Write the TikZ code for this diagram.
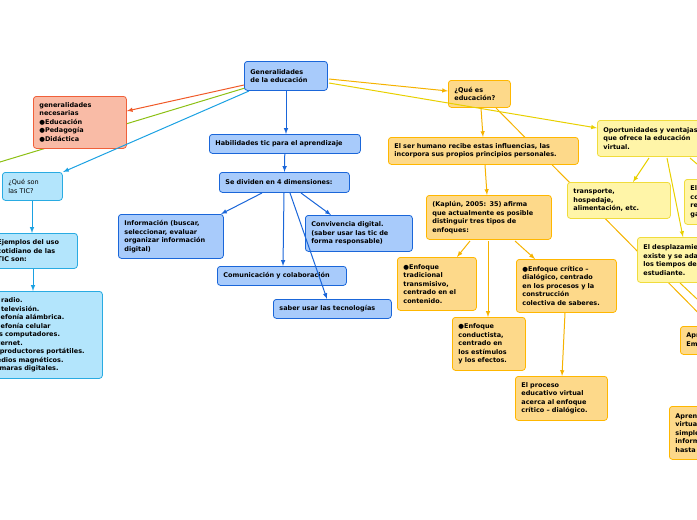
\documentclass[tikz,border=0pt]{standalone}
\usepackage{fontspec}
\setmainfont{DejaVu Sans}
\begin{document}
\hyphenpenalty=10000 \exhyphenpenalty=10000
\begin{tikzpicture}[x=1pt,y=-1pt,
  base/.style={draw,rounded corners=3pt,line width=0.8pt,anchor=north west,inner xsep=6pt,inner ysep=2pt,align=left,font=\fontsize{6.5}{8.5}\selectfont\bfseries},
  bluebox/.style={base,fill={rgb,255:red,168;green,203;blue,251},draw={rgb,255:red,26;green,102;blue,217}},
  cyanbox/.style={base,fill={rgb,255:red,179;green,229;blue,252},draw={rgb,255:red,41;green,171;blue,226}},
  redbox/.style={base,fill={rgb,255:red,249;green,187;blue,166},draw={rgb,255:red,240;green,96;blue,58}},
  orbox/.style={base,fill={rgb,255:red,253;green,217;blue,138},draw={rgb,255:red,255;green,183;blue,0}},
  yebox/.style={base,fill={rgb,255:red,255;green,245;blue,168},draw={rgb,255:red,240;green,220;blue,60}},
  cb/.style={line width=1pt,-latex,draw={rgb,255:red,26;green,102;blue,217}},
  cc/.style={line width=1pt,-latex,draw={rgb,255:red,27;green,161;blue,226}},
  co/.style={line width=1pt,-latex,draw={rgb,255:red,245;green,178;blue,0}},
  cy/.style={line width=1pt,-latex,draw={rgb,255:red,232;green,208;blue,0}},
]
\newcommand\bx[7]{\node[#6,minimum width={#4pt-#2pt},minimum height={#5pt-#3pt},text width={#4pt-#2pt-12pt}] (#1) at (#2,#3) {#7};}
\useasboundingbox (0,0) rectangle (697,520);
\clip (0,0) rectangle (697,520);
\coordinate (gl) at (-10,165);
\coordinate (qr) at (730,345);
\coordinate (dr) at (730,330);
\draw[line width=1pt,draw={rgb,255:red,140;green,192;blue,20}] (245,88) -- (gl);
\draw[line width=1pt,draw={rgb,255:red,245;green,178;blue,0}] (496,108) -- (qr);
\draw[line width=1pt,draw={rgb,255:red,240;green,190;blue,0}] (680,283) -- (dr);
\bx{gen}{244}{61}{327}{90}{bluebox}{Generalidades\\de la educación}
\bx{gnec}{33}{96}{126}{148}{redbox}{generalidades\\necesarias\\●Educación\\●Pedagogía\\●Didáctica}
\bx{tic}{2}{172}{62}{200}{cyanbox,font=\fontsize{6.5}{8.5}\selectfont}{¿Qué son\\las TIC?}
\bx{ej}{-9}{233}{77}{268}{cyanbox}{Ejemplos del uso\\cotidiano de las\\TIC son:}
\bx{lst}{-16}{291}{102}{378}{cyanbox,inner xsep=5pt}{La radio.\\La televisión.\\Telefonía alámbrica.\\Telefonía celular\\Los computadores.\\Internet.\\Reproductores portátiles.\\Medios magnéticos.\\Cámaras digitales.}
\bx{hab}{209}{134}{360}{153}{bluebox}{Habilidades tic para el aprendizaje}
\bx{div}{219}{172}{349}{192}{bluebox}{Se dividen en 4 dimensiones:}
\bx{inf}{118}{214}{223}{258}{bluebox}{Información (buscar,\\seleccionar, evaluar\\organizar información\\digital)}
\bx{conv}{305}{215}{412}{251}{bluebox}{Convivencia digital.\\(saber usar las tic de\\forma responsable)}
\bx{com}{217}{266}{346}{285}{bluebox}{Comunicación y colaboración}
\bx{sab}{273}{299}{391}{318}{bluebox}{saber usar las tecnologías}
\bx{que}{448}{80}{510}{107}{orbox}{¿Qué es\\educación?}
\bx{ser}{388}{137}{578}{164}{orbox}{El ser humano recibe estas influencias, las\\incorpora sus propios principios personales.}
\bx{kap}{426}{195}{551}{239}{orbox}{(Kaplún, 2005: 35) afirma\\que actualmente es posible\\distinguir tres tipos de\\enfoques:}
\bx{tra}{397}{257}{476}{310}{orbox}{●Enfoque\\tradicional\\transmisivo,\\centrado en el\\contenido.}
\bx{con}{452}{317}{525}{370}{orbox}{●Enfoque\\conductista,\\centrado en\\los estímulos\\y los efectos.}
\bx{cri}{516}{259}{616}{312}{orbox}{●Enfoque crítico –\\dialógico, centrado\\en los procesos y la\\construcción\\colectiva de saberes.}
\bx{pro}{515}{376}{607}{420}{orbox}{El proceso\\educativo virtual\\acerca al enfoque\\crítico – dialógico.}
\bx{opo}{597}{120}{760}{156}{yebox}{Oportunidades y ventajas\\que ofrece la educación\\virtual.}
\bx{tran}{567}{182}{670}{218}{yebox}{transporte,\\hospedaje,\\alimentación, etc.}
\bx{eb}{684}{179}{760}{224}{yebox}{El ahorro\\costos\\reducidos\\gastos}
\bx{des}{637}{237}{760}{282}{yebox}{El desplazamiento no\\existe y se adapta a\\los tiempos del\\estudiante.}
\bx{ap}{680}{326}{760}{354}{orbox}{Aprendizaje\\Empresarial}
\bx{apr}{669}{406}{760}{459}{orbox}{Aprendizaje\\virtual\\simple\\información\\hasta}
\draw[line width=1pt,-latex,draw={rgb,255:red,240;green,90;blue,40}] (gen.west|-0,85) -- (gnec.east|-0,111);
\draw[cc] (249,91) -- (63,172);
\draw[cb] (286,91) -- (hab.north-|286,0);
\draw[cb] (hab) -- (div);
\draw[cb] (262,193) -- (221,214);
\draw[cb] (284,193) -- (com.north-|283,0);
\draw[cb] (301,193) -- (331,215);
\draw[cb] (290,193) -- (327,299);
\draw[co] (329,79) -- (que.west|-0,91);
\draw[cy] (329,83) -- (opo.west|-0,128);
\draw[cc] (tic.south-|32,0) -- (ej.north-|32,0);
\draw[cc] (ej.south-|33,0) -- (lst.north-|33,0);
\draw[co] (481,108) -- (ser.north-|483,0);
\draw[co] (485,165) -- (kap.north-|487,0);
\draw[co] (470,241) -- (457,257);
\draw[co] (488,241) -- (con.north-|488,0);
\draw[co] (515,241) -- (535,259);
\draw[co] (565,313) -- (pro.north-|562,0);
\draw[cy] (649,158) -- (633,182);
\draw[cy] (667,158) -- (683,237);
\draw[cy] (690,158) -- (710,175);
\end{tikzpicture}
\end{document}
